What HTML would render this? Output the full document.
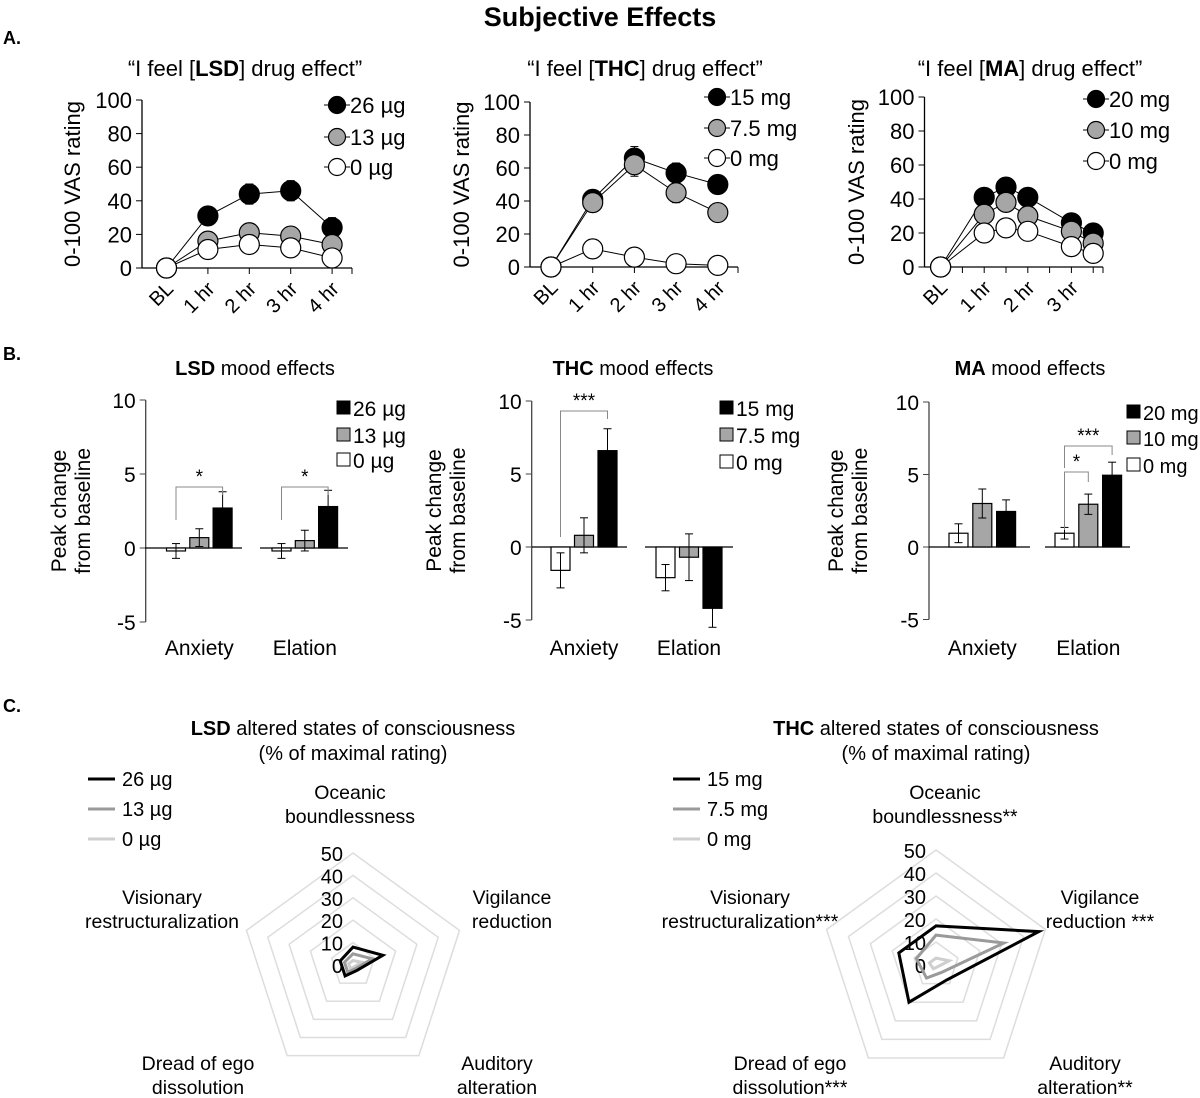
<!DOCTYPE html>
<html><head><meta charset="utf-8"><title>Subjective Effects</title>
<style>
body{margin:0;background:#fff}
svg{display:block;font-family:"Liberation Sans",Arial,sans-serif}
</style></head>
<body>
<svg id="fig" width="1200" height="1098" viewBox="0 0 1200 1098" xmlns="http://www.w3.org/2000/svg">
<text x="600" y="26" text-anchor="middle" font-size="27" font-weight="bold">Subjective Effects</text>
<text x="3" y="44" font-size="18" font-weight="bold">A.</text>
<text x="3" y="360" font-size="18" font-weight="bold">B.</text>
<text x="3" y="712" font-size="18" font-weight="bold">C.</text>
</svg>
<script>
// ---------- Panel A data ----------
const lsdTimeLabels = ["BL","1 hr","2 hr","3 hr","4 hr"];
const lsd26 = [0,31,44,46,24];
const lsd26Err = [0,3,6,6,6];
const lsd13 = [0,16,21,19,14];
const lsd13Err = [0,2,3,3,3];
const lsd0 = [0,11,14,12,6];
const lsd0Err = [0,2,2,2,2];
const thcTimeLabels = ["BL","1 hr","2 hr","3 hr","4 hr"];
const thc15 = [0,41,66,57,50];
const thc15Err = [0,3,7,6,5];
const thc75 = [0,39,62,45,33];
const thc75Err = [0,3,7,6,5];
const thc0 = [0,11,6,2,1];
const thc0Err = [0,2,2,1,1];
const maTickLabels = ["BL","","1 hr","","2 hr","","3 hr",""];
const maSlots = [0,2,3,4,6,7];
const ma20 = [0,41,47,41,26,20];
const ma10 = [0,31,38,30,21,14];
const ma0 = [0,20,23,21,12,8];
const vasTicks = [0,20,40,60,80,100];
// ---------- Panel B data ----------
const moodCats = ["Anxiety","Elation"];
const lsdMood0 = [-0.2,-0.2];
const lsdMood0Err = [0.5,0.5];
const lsdMood13 = [0.7,0.5];
const lsdMood13Err = [0.6,0.7];
const lsdMood26 = [2.7,2.8];
const lsdMood26Err = [1.1,1.1];
const thcMood0 = [-1.6,-2.1];
const thcMood0Err = [1.2,0.9];
const thcMood75 = [0.8,-0.7];
const thcMood75Err = [1.2,1.6];
const thcMood15 = [6.6,-4.2];
const thcMood15Err = [1.5,1.3];
const maMood0 = [0.95,0.95];
const maMood0Err = [0.65,0.4];
const maMood10 = [3.0,2.95];
const maMood10Err = [1.0,0.7];
const maMood20 = [2.45,4.95];
const maMood20Err = [0.8,0.9];
const moodTicks = [-5,0,5,10];
// ---------- Panel C data ----------
const radarTicks = [0,10,20,30,40,50];
const lsdRad26 = [8,14,3,6,6];
const lsdRad13 = [5,9,2,4,4];
const lsdRad0 = [2,4,1,2,2];
const thcRad15 = [17,47,8,20,17];
const thcRad75 = [13,31,4,7,9];
const thcRad0 = [3,6,1,2,3];

const NS = "http://www.w3.org/2000/svg";
const svg = document.getElementById("fig");
function mk(tag, attrs, name, parent){
  const el = document.createElementNS(NS, tag);
  for (const k in attrs) el.setAttribute(k, attrs[k]);
  
  
  (parent||svg).appendChild(el);
  return el;
}
function txt(x,y,s,size,name,anchor,extra){
  const el = mk("text", Object.assign({x:x,y:y,"font-size":size,"text-anchor":anchor||"start"}, extra||{}), name);
  el.textContent = s;
  return el;
}
function richTitle(x,y,bold,pre,post,size,name){
  const el = mk("text",{x:x,y:y,"font-size":size,"text-anchor":"middle"},name);
  const a = document.createElementNS(NS,"tspan"); a.textContent = pre; el.appendChild(a);
  const b = document.createElementNS(NS,"tspan"); b.setAttribute("font-weight","bold"); b.textContent = bold; el.appendChild(b);
  const c = document.createElementNS(NS,"tspan"); c.textContent = post; el.appendChild(c);
}

// ---------- line charts ----------
function lineChart(c){
  const ys = v => c.y0 - (v/100)*(c.y0-c.y100);
  const xs = i => c.xBL + i*c.dx;
  richTitle(c.titleX, 76, c.drug, "\u201cI feel [", "] drug effect\u201d", 22, c.id+"-title");
  mk("line",{x1:c.ax,y1:c.y100,x2:c.ax,y2:c.y0,stroke:"#000","stroke-width":1.3},c.id+"-y-axis");
  mk("line",{x1:c.ax,y1:c.y0,x2:c.axEnd,y2:c.y0,stroke:"#000","stroke-width":1.3},c.id+"-x-axis");
  vasTicks.forEach(t=>{
    mk("line",{x1:c.ax-6,y1:ys(t),x2:c.ax,y2:ys(t),stroke:"#000"},c.id+"-y-tick");
    txt(c.ax-10, ys(t)+8, String(t), 22, c.id+"-y-tick-label","end");
  });
  c.tickLabels.forEach((l,i)=>{
    if(i>0) mk("line",{x1:xs(i),y1:c.y0,x2:xs(i),y2:c.y0+6,stroke:"#000"},c.id+"-x-tick");
    if(l) txt(xs(i)+8, c.y0+22, l, 20, c.id+"-x-tick-label","end",{transform:`rotate(-45 ${xs(i)+8} ${c.y0+22})`});
  });
  mk("line",{x1:c.axEnd,y1:c.y0,x2:c.axEnd,y2:c.y0+6,stroke:"#000"},c.id+"-x-tick");
  txt(0,0,"0-100 VAS rating",22,c.id+"-y-axis-title","middle",{transform:`translate(${c.ylx},${(c.y0+c.y100)/2}) rotate(-90)`});
  const fills=["#000","#a6a6a6","#fff"];
  for(let s=0;s<c.series.length;s++){
    const vals=c.series[s], err=c.errs?c.errs[s]:null;
    const pts = vals.map((v,i)=>[xs(c.slots?c.slots[i]:i), ys(v)]);
    mk("polyline",{points:pts.map(p=>p.join(",")).join(" "),fill:"none",stroke:"#000","stroke-width":1},c.id+"-line-"+c.names[s]);
    if(err) vals.forEach((v,i)=>{ if(err[i]>0){
      const x=pts[i][0];
      mk("line",{x1:x,y1:ys(v-err[i]),x2:x,y2:ys(v+err[i]),stroke:"#000"},c.id+"-error-bar");
      mk("line",{x1:x-4,y1:ys(v+err[i]),x2:x+4,y2:ys(v+err[i]),stroke:"#000"},c.id+"-error-cap");
      mk("line",{x1:x-4,y1:ys(v-err[i]),x2:x+4,y2:ys(v-err[i]),stroke:"#000"},c.id+"-error-cap");
    }});
  }
  for(let s=0;s<c.series.length;s++){
    c.series[s].forEach((v,i)=>{
      mk("circle",{cx:xs(c.slots?c.slots[i]:i),cy:ys(v),r:10,fill:fills[s],stroke:"#000","stroke-width":1.2},c.id+"-point-"+c.names[s]);
    });
  }
  c.names.forEach((n,s)=>{
    const y=c.legY[s];
    mk("line",{x1:c.legX-13,y1:y,x2:c.legX+13,y2:y,stroke:"#000"},c.id+"-legend-line");
    mk("circle",{cx:c.legX,cy:y,r:8.5,fill:fills[s],stroke:"#000","stroke-width":1.2},c.id+"-legend-marker");
    txt(c.legX+13, y+8, n, 22, c.id+"-legend-entry");
  });
}
lineChart({id:"lsd-vas",drug:"LSD",titleX:245,ax:142,axEnd:352,xBL:166.5,dx:41.4,y0:268,y100:100,ylx:80,
  tickLabels:lsdTimeLabels,series:[lsd26,lsd13,lsd0],errs:[lsd26Err,lsd13Err,lsd0Err],names:["26 µg","13 µg","0 µg"],legX:337,legY:[105,137,167]});
lineChart({id:"thc-vas",drug:"THC",titleX:645,ax:530,axEnd:738,xBL:551,dx:41.7,y0:267,y100:102,ylx:469,
  tickLabels:thcTimeLabels,series:[thc15,thc75,thc0],errs:[thc15Err,thc75Err,thc0Err],names:["15 mg","7.5 mg","0 mg"],legX:717,legY:[97,128,158]});
lineChart({id:"ma-vas",drug:"MA",titleX:1030,ax:924.5,axEnd:1103,xBL:940.6,dx:21.8,y0:267,y100:97,ylx:864,
  tickLabels:maTickLabels,slots:maSlots,series:[ma20,ma10,ma0],errs:null,names:["20 mg","10 mg","0 mg"],legX:1096,legY:[99,130,161]});

// ---------- bar charts ----------
function barChart(c){
  const ys = v => c.y0 - v*(c.y0-c.y10)/10;
  richTitle(c.titleX, 375, c.drug, "", " mood effects", 20, c.id+"-title");
  mk("line",{x1:c.ax,y1:ys(10),x2:c.ax,y2:ys(-5),stroke:"#444","stroke-width":1.3},c.id+"-y-axis");
  moodTicks.forEach(t=>{
    mk("line",{x1:c.ax-6,y1:ys(t),x2:c.ax,y2:ys(t),stroke:"#444"},c.id+"-y-tick");
    txt(c.ax-10, ys(t)+8, String(t), 21, c.id+"-y-tick-label","end");
  });
  txt(0,0,"Peak change",21,c.id+"-y-axis-title","middle",{transform:`translate(${c.ylx},${ys(2.5)}) rotate(-90)`});
  txt(0,0,"from baseline",21,c.id+"-y-axis-title-2","middle",{transform:`translate(${c.ylx+24},${ys(2.5)}) rotate(-90)`});
  const fills=["#fff","#a6a6a6","#000"];
  moodCats.forEach((cat,g)=>{
    const gx=c.groupX[g];
    mk("line",{x1:c.base[g][0],y1:c.y0,x2:c.base[g][1],y2:c.y0,stroke:"#000","stroke-width":1.3},c.id+"-baseline");
    c.series.forEach((arr,s)=>{
      const v=arr[g], e=c.errs[s][g], x=gx+s*c.step;
      const top=Math.min(ys(v),c.y0), h=Math.abs(ys(v)-c.y0);
      mk("rect",{x:x,y:top,width:c.bw,height:Math.max(h,0.5),fill:fills[s],stroke:"#000","stroke-width":1.2},c.id+"-bar-"+cat.toLowerCase()+"-"+s);
      const cx=x+c.bw/2;
      mk("line",{x1:cx,y1:ys(v-e),x2:cx,y2:ys(v+e),stroke:"#000"},c.id+"-error-bar");
      mk("line",{x1:cx-4,y1:ys(v+e),x2:cx+4,y2:ys(v+e),stroke:"#000"},c.id+"-error-cap");
      mk("line",{x1:cx-4,y1:ys(v-e),x2:cx+4,y2:ys(v-e),stroke:"#000"},c.id+"-error-cap");
    });
    txt(gx+c.step+c.bw/2, 655, cat, 21, c.id+"-category-label","middle");
  });
  c.brackets.forEach(b=>{
    const g=b.g, x1=c.groupX[g]+b.from*c.step+c.bw/2, x2=c.groupX[g]+b.to*c.step+c.bw/2;
    mk("polyline",{points:`${x1},${b.y1} ${x1},${b.top} ${x2},${b.top} ${x2},${b.y2}`,fill:"none",stroke:"#888","stroke-width":1},c.id+"-significance-bracket");
    txt((x1+x2)/2, b.top-4, b.label, 19, c.id+"-significance-stars","middle");
  });
  c.names.forEach((n,i)=>{
    const s=2-i, y=c.legY[i];
    mk("rect",{x:c.legX,y:y-7,width:13,height:13,fill:fills[s],stroke:"#000"},c.id+"-legend-swatch");
    txt(c.legX+16, y+8, n, c.legSize||21, c.id+"-legend-entry");
  });
}
barChart({id:"lsd-mood",drug:"LSD",titleX:255,ax:145.7,y0:548,y10:400,ylx:66,bw:19,step:23.3,groupX:[166.5,272],
  base:[[145,242],[260,348]],series:[lsdMood0,lsdMood13,lsdMood26],errs:[lsdMood0Err,lsdMood13Err,lsdMood26Err],
  names:["26 µg","13 µg","0 µg"],legX:337,legY:[408,435,460],
  brackets:[{g:0,from:0,to:2,top:487,y1:520,y2:495,label:"*"},{g:1,from:0,to:2,top:487,y1:520,y2:495,label:"*"}]});
barChart({id:"thc-mood",drug:"THC",titleX:633,ax:531.7,y0:547,y10:401,ylx:441,bw:19,step:23.5,groupX:[551,656],
  base:[[532,627],[645,733]],series:[thcMood0,thcMood75,thcMood15],errs:[thcMood0Err,thcMood75Err,thcMood15Err],
  names:["15 mg","7.5 mg","0 mg"],legX:720,legY:[408,435,462],
  brackets:[{g:0,from:0,to:2,top:411,y1:537,y2:419,label:"***"}]});
barChart({id:"ma-mood",drug:"MA",titleX:1030,ax:929,y0:547,y10:402,ylx:843,bw:19,step:23.8,groupX:[949,1055],
  base:[[929,1030],[1045,1130]],series:[maMood0,maMood10,maMood20],errs:[maMood0Err,maMood10Err,maMood20Err],
  names:["20 mg","10 mg","0 mg"],legX:1127,legY:[412,438,465],legSize:20,
  brackets:[{g:1,from:0,to:1,top:472,y1:530,y2:482,label:"*"},{g:1,from:0,to:2,top:446,y1:468,y2:455,label:"***"}]});

// ---------- radar charts ----------
const radarAngles=[-90,-18,54,126,198];
function radar(c){
  const k=c.R/50;
  const pt=(v,i)=>{const a=radarAngles[i]*Math.PI/180;return [c.cx+v*k*Math.cos(a), c.cy+v*k*Math.sin(a)];};
  richTitle(c.cx, 735, c.drug, "", " altered states of consciousness", 20, c.id+"-title");
  txt(c.cx, 760, "(% of maximal rating)", 20, c.id+"-subtitle","middle");
  radarTicks.forEach(t=>{ if(t>0)
    mk("polygon",{points:radarAngles.map((a,i)=>pt(t,i).join(",")).join(" "),fill:"none",stroke:"#ddd","stroke-width":1.5},c.id+"-grid-ring");
  });
  radarTicks.forEach(t=>{
    txt(c.cx-10, c.cy - t*k + 8, String(t), 20, c.id+"-ring-label","end");
  });
  const cols=["#000","#9a9a9a","#cfcfcf"];
  for(let s=c.series.length-1;s>=0;s--){
    mk("polygon",{points:c.series[s].map((v,i)=>pt(v,i).join(",")).join(" "),fill:"none",stroke:cols[s],"stroke-width":3,"stroke-linejoin":"miter"},c.id+"-series-"+s);
  }
  c.names.forEach((n,s)=>{
    const y=c.legY+s*30;
    mk("line",{x1:c.legX,y1:y,x2:c.legX+27,y2:y,stroke:cols[s],"stroke-width":3},c.id+"-legend-line");
    txt(c.legX+34, y+7, n, 20, c.id+"-legend-entry");
  });
  c.labels.forEach(l=>{
    const el=mk("text",{x:l.x,y:l.y,"font-size":19.5,"text-anchor":"middle"},c.id+"-axis-label");
    l.lines.forEach((ln,j)=>{
      const ts=document.createElementNS(NS,"tspan");
      ts.setAttribute("x",l.x); ts.setAttribute("dy", j?24:0); ts.textContent=ln;
      el.appendChild(ts);
    });
  });
}
radar({id:"lsd-radar",drug:"LSD",cx:353,cy:965,R:112,series:[lsdRad26,lsdRad13,lsdRad0],names:["26 µg","13 µg","0 µg"],legX:88,legY:779,
  labels:[{x:350,y:799,lines:["Oceanic","boundlessness"]},{x:512,y:904,lines:["Vigilance","reduction"]},{x:497,y:1070,lines:["Auditory","alteration"]},
  {x:198,y:1070,lines:["Dread of ego","dissolution"]},{x:162,y:904,lines:["Visionary","restructuralization"]}]});
radar({id:"thc-radar",drug:"THC",cx:936,cy:965,R:115,series:[thcRad15,thcRad75,thcRad0],names:["15 mg","7.5 mg","0 mg"],legX:673,legY:779,
  labels:[{x:945,y:799,lines:["Oceanic","boundlessness**"]},{x:1100,y:904,lines:["Vigilance","reduction ***"]},{x:1085,y:1070,lines:["Auditory","alteration**"]},
  {x:790,y:1070,lines:["Dread of ego","dissolution***"]},{x:750,y:904,lines:["Visionary","restructuralization***"]}]});
</script>
</body></html>
